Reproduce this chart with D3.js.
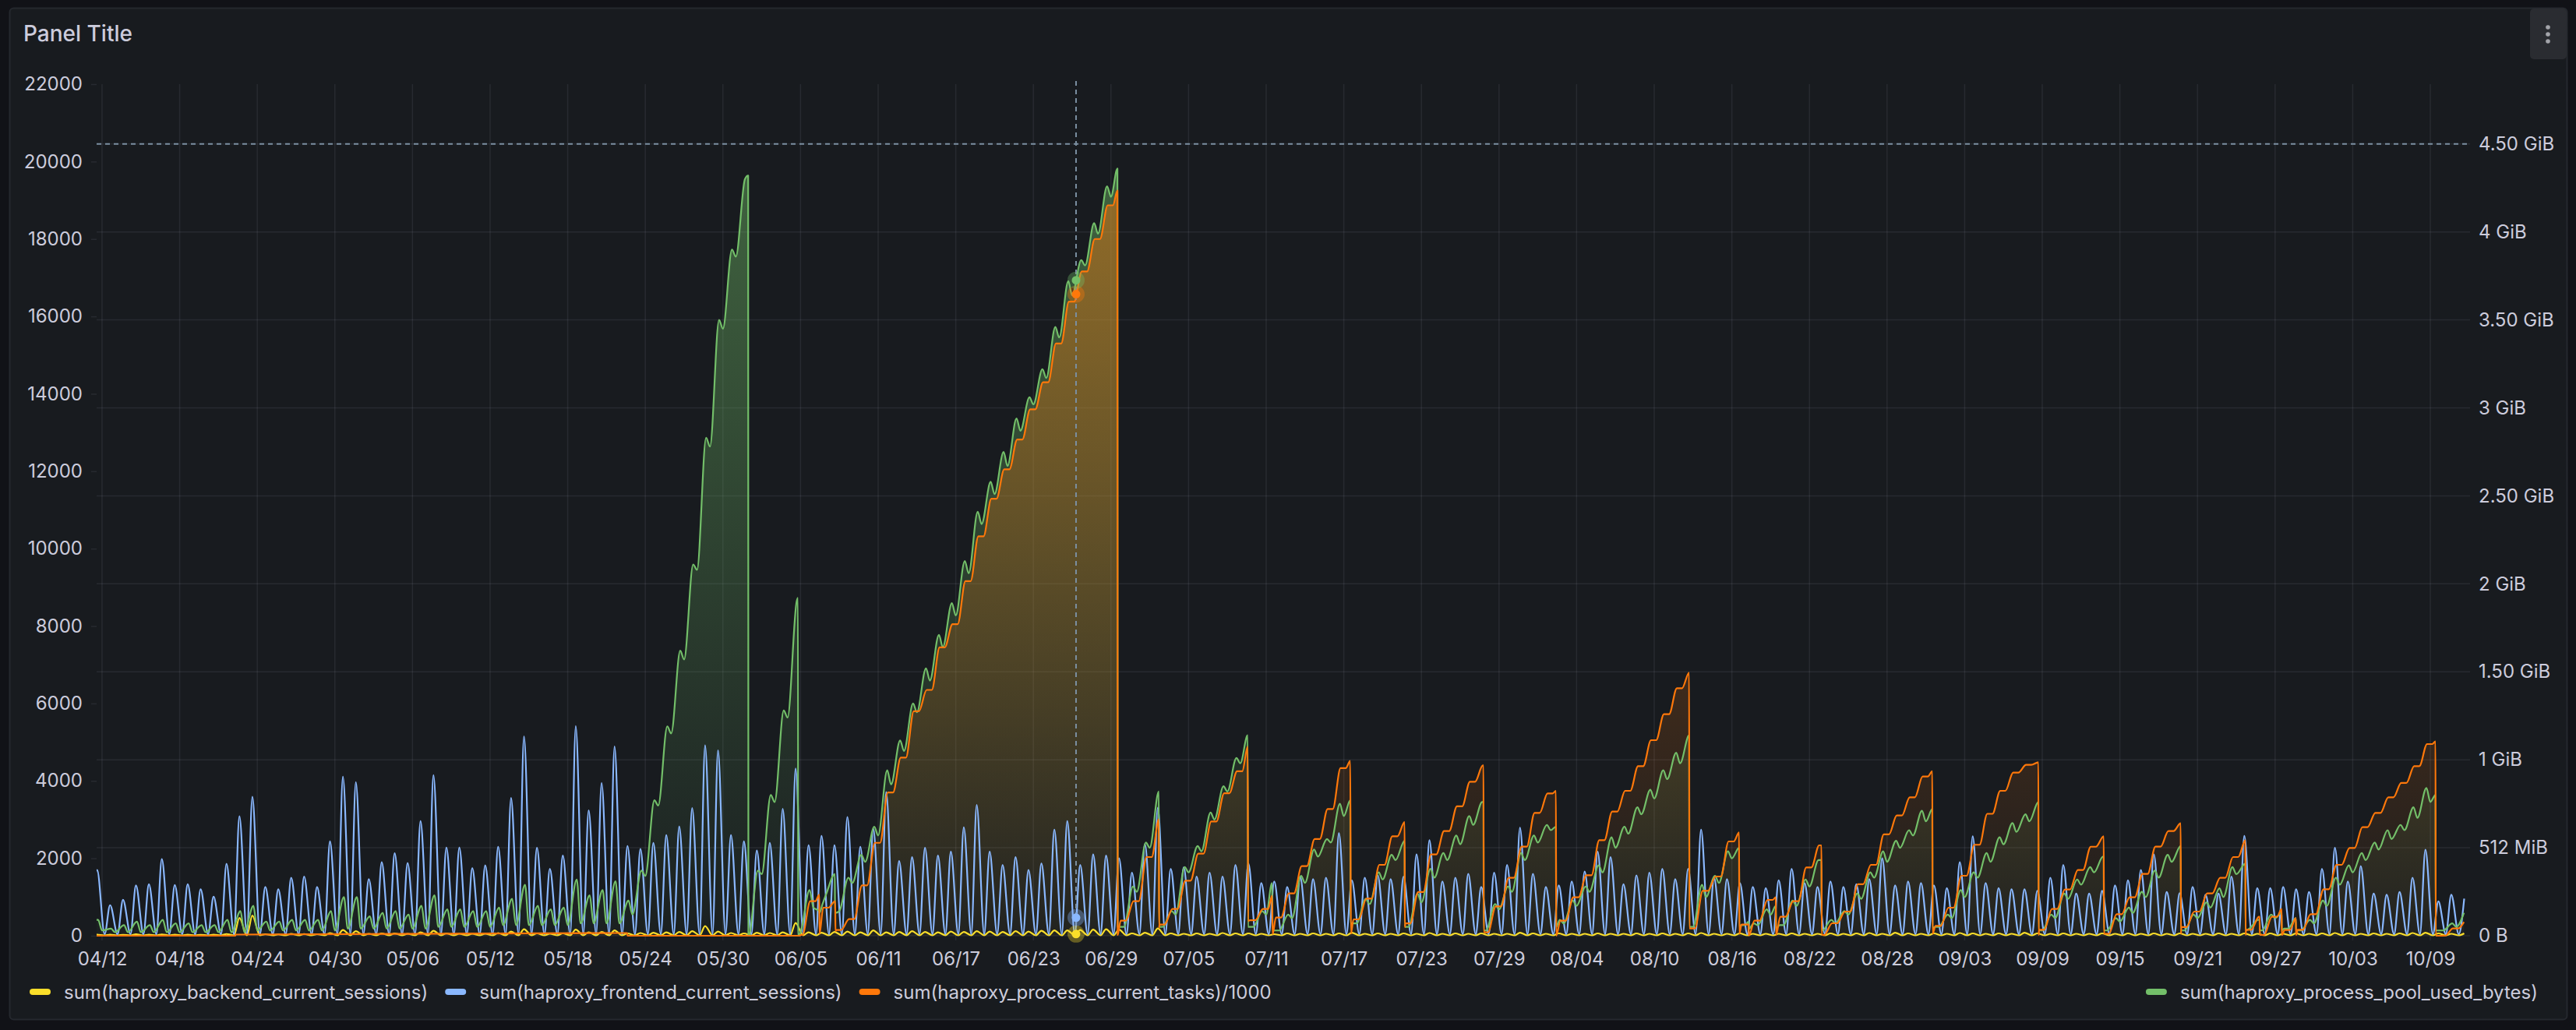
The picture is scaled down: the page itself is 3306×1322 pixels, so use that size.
<!DOCTYPE html>
<html>
<head>
<meta charset="utf-8">
<title>Panel Title</title>
<script src="https://cdn.jsdelivr.net/npm/d3@7"></script>
<style>
  body { margin: 0; background: #111217; font-family: Inter, "Noto Sans", sans-serif; }
  svg text { fill: #ccccdc; }
</style>
</head>
<body>
<svg id="chart" width="3306" height="1322"></svg>
<script>
// ---- data (days counted from 04/12 00:00) ----
const tickLabels = ["04/12","04/18","04/24","04/30","05/06","05/12","05/18","05/24","05/30","06/05","06/11",
  "06/17","06/23","06/29","07/05","07/11","07/17","07/23","07/29","08/04","08/10","08/16","08/22","08/28",
  "09/03","09/09","09/15","09/21","09/27","10/03","10/09"];
const leftTicks = [0,2000,4000,6000,8000,10000,12000,14000,16000,18000,20000,22000];
const rightTicks = [0,0.5,1,1.5,2,2.5,3,3.5,4,4.5]; // GiB
const rightTickLabels = ["0 B","512 MiB","1 GiB","1.50 GiB","2 GiB","2.50 GiB","3 GiB","3.50 GiB","4 GiB","4.50 GiB"];

const seriesNames = ["sum(haproxy_backend_current_sessions)","sum(haproxy_frontend_current_sessions)",
  "sum(haproxy_process_current_tasks)/1000","sum(haproxy_process_pool_used_bytes)"];
const seriesColors = ["#fade2a","#8ab8ff","#ff780a","#73bf69"];

// daily peaks, first value = 04/11
const backendPeaks = [30,
 30,25,40,30,35,30,30,25,30,45, 460,520,40,35,50,45,40,70,150,120,
 50,60,60,50,90,130,60,50,50,50, 70,110,170,60,50,60,160,90,100,140,
 60,70,80,90,100,120,250,110,70,60, 80,70,90,330,90,80,100,110,90,140,
 90,100,120,100,90,110,100,120,110,100, 120,110,130,140,140,150,160,170,160,60,
 80,190,60,50,60,50,70,60,60,50, 40,60,50,60,50,60,80,50,60,50,
 60,50,70,50,60,50,60,50,50,80, 60,50,60,50,50,60,50,50,60,50,
 60,50,60,70,50,50,60,50,50,50, 60,50,50,60,50,60,70,50,80,60,
 50,60,50,70,60,50,60,50,80,60, 50,60,50,50,60,50,60,50,60,50,
 60,50,50,60,50,60,50,60,50,60, 50,60,70,60,50,60,50,60,70,80,
 60,50,60];
const backendTrough = 10;

const frontendPeaks = [1700,
 790,930,1300,1330,1980,1310,1330,1200,1010,1860, 3090,3590,1260,1200,1500,1530,1260,2440,4110,3970,
 1460,1900,2130,1880,2960,4150,2280,2280,1750,1820, 2300,3560,5150,2270,1730,2070,5420,3240,3950,4890,
 2320,2240,2400,2600,2820,3300,4920,4790,2600,2440, 2200,2400,3280,4320,2340,2580,2340,3070,2300,2770,
 3710,1930,2030,2270,2070,2170,2800,3380,2170,1830, 2030,1700,1870,2740,2960,1830,2100,2070,2000,1630,
 2370,3310,1730,1770,1530,1630,1530,1830,1870,1360, 1400,1260,1530,1460,1500,2650,1430,1500,1560,1460,
 1530,2100,2470,1400,1500,1600,1260,1630,1830,2790, 1600,1260,1300,1400,1660,2170,2030,1330,1560,1630,
 1730,1460,1730,2740,1500,1460,1360,1260,1230,1430, 1730,1360,1260,1400,1260,1330,1460,2000,1300,1400,
 1360,1300,1230,1900,2570,1360,1230,1200,1200,1160, 1500,1830,1090,1090,1160,1300,1430,1700,2100,1130,
 1100,1260,1060,1090,1530,2580,1230,1230,1260,1200, 1130,1730,2270,1400,1800,1090,1060,1130,1500,2220,
 890,1060,960];
const frontendTrough = 40;

// tasks/1000: each ramp = start/end day, value after reset, daily plateau values, value just before reset
const taskRamps = [
 {start:-0.42, end:10.3, base:0, steps:[], peak:0},
 {start:10.32, end:40.6, base:30, steps:[], peak:70},
 {start:40.62, end:53.96, base:0, steps:[], peak:0},
 {start:53.98, end:55.45, base:20, steps:[20,893,1060], peak:1060},
 {start:55.47, end:56.68, base:50, steps:[725,893], peak:893},
 {start:56.7, end:78.5, base:120, steps:[150,430,1300,2400,3700,4600,5800,6350,7450,8050,9160,10320,11290,
   12050,12820,13600,14300,15300,16380,17160,18000,18870,19250], peak:19250},
 {start:78.52, end:81.7, base:20, steps:[390,893,2033,3006], peak:3006},
 {start:81.72, end:88.57, base:200, steps:[290,690,1420,2120,2950,3680,4250,4885], peak:4885},
 {start:88.6, end:90.45, base:380, steps:[400,692,1030], peak:1030},
 {start:90.5, end:96.5, base:40, steps:[470,1094,1800,2500,3275,4330,4516], peak:4516},
 {start:96.55, end:100.7, base:50, steps:[423,960,1832,2570,2939], peak:2939},
 {start:100.72, end:106.8, base:220, steps:[320,1128,2101,2704,3342,3979,4400], peak:4400},
 {start:106.82, end:112.4, base:90, steps:[120,758,1497,2302,3174,3677,3744], peak:3744},
 {start:112.42, end:122.7, base:0, steps:[390,993,1564,2470,3208,3744,4381,5052,5723,6395,6798], peak:6798},
 {start:122.72, end:126.56, base:190, steps:[190,1161,1530,2436,2671], peak:2671},
 {start:126.58, end:127.3, base:50, steps:[289,289], peak:289},
 {start:127.32, end:129.4, base:0, steps:[390,926,993], peak:993},
 {start:129.42, end:132.93, base:20, steps:[490,893,1765,2335], peak:2335},
 {start:132.95, end:141.5, base:20, steps:[20,322,624,1329,1832,2620,3107,3577,4113,4248], peak:4248},
 {start:141.52, end:149.7, base:50, steps:[255,725,1550,2350,3150,3744,4214,4415,4482], peak:4482},
 {start:149.72, end:154.75, base:20, steps:[155,692,1195,1700,2300,2571], peak:2571},
 {start:154.77, end:160.7, base:50, steps:[87,557,993,1597,2302,2705,2906], peak:2906},
 {start:160.72, end:165.7, base:50, steps:[222,624,1094,1497,2033,2470], peak:2470},
 {start:165.72, end:166.8, base:20, steps:[155,490], peak:490},
 {start:166.82, end:168.5, base:20, steps:[100,490,692], peak:692},
 {start:168.52, end:169.6, base:20, steps:[150,457], peak:457},
 {start:169.62, end:180.4, base:20, steps:[155,557,1200,1832,2268,2805,3174,3577,3946,4382,4952,5020], peak:5020},
 {start:180.42, end:182.6, base:0, steps:[0,188,356], peak:356}
];

// pool used bytes in GiB: daily [bump, dip] pairs per ramp
const poolRamps = [
 {start:-0.42, end:49.95, base:0.09, peak:4.32, steps:[[0.09,0.03],
  [0.04,0.02],[0.06,0.02],[0.08,0.02],[0.06,0.02],[0.09,0.02],[0.07,0.02],[0.07,0.02],[0.06,0.02],[0.06,0.02],[0.09,0.02],
  [0.14,0.02],[0.17,0.03],[0.08,0.03],[0.08,0.03],[0.09,0.03],[0.09,0.03],[0.09,0.03],[0.14,0.03],[0.22,0.04],[0.22,0.04],
  [0.11,0.04],[0.13,0.04],[0.14,0.04],[0.12,0.04],[0.17,0.04],[0.23,0.05],[0.15,0.05],[0.15,0.05],[0.14,0.05],[0.14,0.05],
  [0.16,0.06],[0.21,0.06],[0.29,0.06],[0.17,0.06],[0.15,0.06],[0.16,0.06],[0.32,0.07],[0.23,0.07],[0.26,0.07],[0.31,0.07],
  [0.20,0.12],[0.37,0.34],[0.77,0.74],[1.19,1.15],[1.62,1.57],[2.11,2.08],[2.83,2.78],[3.50,3.45],[3.90,3.86],[4.30,4.30]]},
 {start:49.97, end:53.8, base:0, peak:1.92, steps:[[0,0],[0.37,0.35],[0.80,0.76],[1.28,1.24],[1.90,1.90]]},
 {start:53.82, end:55.45, base:0, peak:0.14, steps:[[0,0.02],[0.26,0.16],[0.14,0.14]]},
 {start:55.47, end:56.65, base:0.13, peak:0.35, steps:[[0.18,0.24],[0.35,0.35]]},
 {start:56.67, end:78.5, base:0.13, peak:4.36, steps:[[0.13,0.14],[0.33,0.30],[0.46,0.42],[0.62,0.57],[0.94,0.86],
  [1.11,1.05],[1.32,1.27],[1.52,1.45],[1.71,1.64],[1.89,1.82],[2.13,2.06],[2.41,2.34],[2.58,2.51],[2.75,2.67],[2.94,2.87],
  [3.06,3.02],[3.22,3.17],[3.46,3.40],[3.72,3.64],[3.84,3.81],[4.05,3.99],[4.26,4.20],[4.36,4.36]]},
 {start:78.52, end:81.7, base:0.05, peak:0.82, steps:[[0.05,0.05],[0.28,0.25],[0.53,0.50],[0.82,0.82]]},
 {start:81.72, end:88.57, base:0.05, peak:1.14, steps:[[0.05,0.05],[0.14,0.12],[0.39,0.36],[0.51,0.48],[0.70,0.66],[0.85,0.82],[1.01,0.98],[1.14,1.14]]},
 {start:88.6, end:90.45, base:0.05, peak:0.30, steps:[[0.05,0.05],[0.14,0.12],[0.30,0.30]]},
 {start:90.5, end:96.5, base:0.03, peak:0.77, steps:[[0.03,0.03],[0.12,0.10],[0.34,0.30],[0.49,0.45],[0.55,0.53],[0.75,0.68],[0.77,0.77]]},
 {start:96.52, end:100.7, base:0.07, peak:0.54, steps:[[0.07,0.07],[0.21,0.18],[0.36,0.32],[0.46,0.43],[0.54,0.54]]},
 {start:100.72, end:106.8, base:0.05, peak:0.76, steps:[[0.05,0.05],[0.24,0.19],[0.38,0.33],[0.47,0.43],[0.57,0.52],[0.68,0.63],[0.76,0.76]]},
 {start:106.82, end:112.4, base:0.03, peak:0.62, steps:[[0.03,0.03],[0.18,0.15],[0.28,0.25],[0.47,0.43],[0.57,0.53],[0.63,0.60],[0.62,0.62]]},
 {start:112.42, end:122.7, base:0.05, peak:1.14, steps:[[0.09,0.07],[0.20,0.17],[0.28,0.25],[0.40,0.36],[0.56,0.50],[0.62,0.58],
  [0.73,0.69],[0.83,0.78],[0.94,0.89],[1.04,0.98],[1.14,1.14]]},
 {start:122.72, end:126.56, base:0.05, peak:0.50, steps:[[0.05,0.05],[0.29,0.22],[0.34,0.30],[0.48,0.44],[0.50,0.50]]},
 {start:126.58, end:127.3, base:0.05, peak:0.08, steps:[[0.06,0.06],[0.08,0.08]]},
 {start:127.32, end:129.4, base:0.04, peak:0.17, steps:[[0.07,0.06],[0.15,0.12],[0.17,0.17]]},
 {start:129.42, end:132.93, base:0.04, peak:0.43, steps:[[0.06,0.06],[0.20,0.17],[0.32,0.28],[0.43,0.43]]},
 {start:132.95, end:141.5, base:0.03, peak:0.72, steps:[[0.03,0.03],[0.09,0.07],[0.14,0.12],[0.24,0.21],[0.36,0.33],[0.48,0.42],
  [0.54,0.50],[0.60,0.57],[0.71,0.65],[0.72,0.72]]},
 {start:141.52, end:149.7, base:0.04, peak:0.76, steps:[[0.05,0.05],[0.12,0.10],[0.26,0.22],[0.36,0.33],[0.47,0.42],[0.56,0.52],
  [0.64,0.59],[0.69,0.65],[0.76,0.76]]},
 {start:149.72, end:154.75, base:0.03, peak:0.45, steps:[[0.03,0.03],[0.12,0.10],[0.24,0.21],[0.32,0.29],[0.39,0.36],[0.45,0.45]]},
 {start:154.77, end:160.7, base:0.03, peak:0.51, steps:[[0.03,0.03],[0.10,0.08],[0.16,0.13],[0.25,0.22],[0.37,0.33],[0.46,0.42],[0.51,0.51]]},
 {start:160.72, end:165.7, base:0.03, peak:0.41, steps:[[0.03,0.03],[0.12,0.10],[0.19,0.16],[0.27,0.22],[0.39,0.35],[0.41,0.41]]},
 {start:165.72, end:166.8, base:0.03, peak:0.09, steps:[[0.04,0.04],[0.09,0.09]]},
 {start:166.82, end:168.5, base:0.03, peak:0.13, steps:[[0.03,0.03],[0.12,0.10],[0.13,0.13]]},
 {start:168.52, end:169.6, base:0.03, peak:0.10, steps:[[0.04,0.04],[0.10,0.10]]},
 {start:169.62, end:180.4, base:0.03, peak:0.80, steps:[[0.03,0.03],[0.09,0.07],[0.20,0.17],[0.33,0.29],[0.40,0.36],[0.47,0.43],
  [0.53,0.49],[0.60,0.55],[0.63,0.60],[0.73,0.67],[0.84,0.76],[0.80,0.80]]},
 {start:180.42, end:182.6, base:0.03, peak:0.13, steps:[[0.03,0.03],[0.07,0.05],[0.13,0.13]]}
];

const hoverDay = 75.3;      // cursor position
const hoverLevel = 4.5;     // GiB, cursor height

// ---- layout ----
const W = 3306, H = 1322;
const plot = {left: 124, right: 3170, top: 108, bottom: 1201};
const day0 = Date.UTC(2024, 3, 12);
const toDate = d => new Date(day0 + d * 864e5);

const x = d3.scaleUtc().domain([toDate(-0.42), toDate(183.07)]).range([plot.left, plot.right]);
const yL = d3.scaleLinear().domain([0, 22000]).range([plot.bottom, plot.top]);
const yR = d3.scaleLinear().domain([0, 4.84]).range([plot.bottom, plot.top]);

// ---- build point lists ----
function buildDaily(peaks, trough) {
  const pts = [];
  peaks.forEach((p, i) => { const d = i - 1; pts.push([d + 0.2, trough]); pts.push([d + 0.62, p]); });
  return pts;
}
function buildTasks(ramps) {
  const pts = [];
  ramps.forEach(r => {
    pts.push([r.start, r.base]);
    let prev = r.base;
    const first = Math.floor(r.start);
    r.steps.forEach((v, i) => {
      const ta = first + i + 0.15, tb = first + i + 0.75;
      if (ta > r.start && ta < r.end) pts.push([ta, prev]);
      if (tb > r.start && tb < r.end) { pts.push([tb, v]); prev = v; }
    });
    pts.push([r.end, r.peak]);
  });
  return pts;
}
function buildPool(ramps) {
  const pts = [];
  ramps.forEach(r => {
    pts.push([r.start, r.base]);
    const first = Math.floor(r.start);
    r.steps.forEach(([bump, dip], i) => {
      const tb = first + i + 0.7, td = first + i + 1.0;
      if (tb > r.start && tb < r.end) pts.push([tb, bump]);
      if (td > r.start && td < r.end) pts.push([td, dip]);
    });
    pts.push([r.end, r.peak]);
  });
  return pts;
}

const series = [
  {pts: buildDaily(backendPeaks, backendTrough), y: yL, fill: false},
  {pts: buildDaily(frontendPeaks, frontendTrough), y: yL, fill: false},
  {pts: buildTasks(taskRamps), y: yL, fill: true},
  {pts: buildPool(poolRamps), y: yR, fill: true}
];

// ---- drawing ----
const svg = d3.select("#chart");
const defs = svg.append("defs");
defs.append("clipPath").attr("id", "plotClip").append("rect")
  .attr("x", plot.left).attr("y", plot.top - 4)
  .attr("width", plot.right - plot.left).attr("height", plot.bottom - plot.top + 6);
seriesColors.forEach((c, i) => {
  const g = defs.append("linearGradient").attr("id", "grad" + i)
    .attr("gradientUnits", "userSpaceOnUse")
    .attr("x1", 0).attr("x2", 0).attr("y1", plot.top).attr("y2", plot.bottom);
  g.append("stop").attr("offset", 0).attr("stop-color", c).attr("stop-opacity", 0.48);
  g.append("stop").attr("offset", 1).attr("stop-color", c).attr("stop-opacity", 0.03);
});

// panel
svg.append("rect").attr("x", 0).attr("y", 0).attr("width", W).attr("height", H).attr("fill", "#111217");
svg.append("rect").attr("x", 12.5).attr("y", 10.5).attr("width", 3282).attr("height", 1298).attr("rx", 5)
  .attr("fill", "#181b1f").attr("stroke", "#25282e").attr("stroke-width", 2);
svg.append("text").attr("x", 30).attr("y", 53).attr("font-size", 28).attr("font-weight", 500)
  .text("Panel Title");
// menu button
svg.append("rect").attr("x", 3247).attr("y", 11).attr("width", 47).attr("height", 65).attr("rx", 5).attr("fill", "#2a2c31");
[35, 44, 53].forEach(cy => svg.append("circle").attr("cx", 3270).attr("cy", cy).attr("r", 2.8).attr("fill", "#a3a4aa"));

const gridColor = "rgba(204,204,220,0.09)";
// grid
const grid = svg.append("g");
const xTicks = tickLabels.map(t => { const [m, d] = t.split("/").map(Number); return new Date(Date.UTC(2024, m - 1, d)); });
grid.selectAll(".vx").data(xTicks).join("line")
  .attr("x1", d => x(d)).attr("x2", d => x(d)).attr("y1", plot.top).attr("y2", plot.bottom + 6)
  .attr("stroke", gridColor).attr("stroke-width", 1.5);
grid.selectAll(".hy").data(rightTicks).join("line")
  .attr("x1", plot.left).attr("x2", plot.right).attr("y1", d => yR(d)).attr("y2", d => yR(d))
  .attr("stroke", gridColor).attr("stroke-width", 1.5);

// axes
const axisFont = 24;
const leftAxis = svg.append("g").attr("transform", `translate(${plot.left},0)`)
  .call(d3.axisLeft(yL).tickValues(leftTicks).tickFormat(d => String(d)).tickSize(7).tickPadding(11));
const rightAxis = svg.append("g").attr("transform", `translate(${plot.right},0)`)
  .call(d3.axisRight(yR).tickValues(rightTicks).tickFormat((d, i) => rightTickLabels[i]).tickSize(0).tickPadding(11));
const bottomAxis = svg.append("g").attr("transform", `translate(0,${plot.bottom})`)
  .call(d3.axisBottom(x).tickValues(xTicks).tickFormat((d, i) => tickLabels[i]).tickSize(0).tickPadding(21));
[leftAxis, rightAxis, bottomAxis].forEach(a => {
  a.select(".domain").remove();
  a.selectAll("line").attr("stroke", gridColor).attr("stroke-width", 1.5);
  a.selectAll("text").attr("font-size", axisFont).attr("font-family", "Inter, sans-serif").attr("fill", "#ccccdc");
});

// series: pool fill under tasks fill, then lines (tasks last so its resets sit on top)
const body = svg.append("g").attr("clip-path", "url(#plotClip)");
[3, 2].forEach(i => {
  const s = series[i];
  const area = d3.area().curve(d3.curveMonotoneX)
    .x(p => x(toDate(p[0]))).y0(plot.bottom).y1(p => s.y(p[1]));
  body.append("path").datum(s.pts).attr("d", area).attr("fill", `url(#grad${i})`);
});
[0, 1, 3, 2].forEach(i => {
  const s = series[i];
  const line = d3.line().curve(d3.curveMonotoneX).x(p => x(toDate(p[0]))).y(p => s.y(p[1]));
  body.append("path").datum(s.pts).attr("d", line).attr("fill", "none")
    .attr("stroke", seriesColors[i]).attr("stroke-width", 2.2).attr("stroke-linejoin", "round");
});

// cursor
const hx = x(toDate(hoverDay));
const cursorColor = "#7b8fa1";
svg.append("line").attr("x1", hx).attr("x2", hx).attr("y1", plot.top - 4).attr("y2", plot.bottom)
  .attr("stroke", cursorColor).attr("stroke-width", 2).attr("stroke-dasharray", "6,5");
svg.append("line").attr("x1", plot.left).attr("x2", plot.right).attr("y1", yR(hoverLevel)).attr("y2", yR(hoverLevel))
  .attr("stroke", cursorColor).attr("stroke-width", 2).attr("stroke-dasharray", "6,5");
function valueAt(pts, t) {
  const i = d3.bisector(p => p[0]).left(pts, t);
  if (i <= 0) return pts[0][1];
  const a = pts[i - 1], b = pts[i];
  return a[1] + (b[1] - a[1]) * (t - a[0]) / (b[0] - a[0]);
}
series.forEach((s, i) => {
  const cy = s.y(valueAt(s.pts, hoverDay));
  svg.append("circle").attr("cx", hx).attr("cy", cy).attr("r", 11).attr("fill", seriesColors[i]).attr("opacity", 0.35);
  svg.append("circle").attr("cx", hx).attr("cy", cy).attr("r", 5.5).attr("fill", seriesColors[i]);
});

// legend
const legend = svg.append("g");
const legY = 1273;
let lx = 38;
seriesNames.forEach((name, i) => {
  const g = legend.append("g");
  g.append("rect").attr("x", 0).attr("y", legY - 4).attr("width", 27).attr("height", 8).attr("rx", 4)
    .attr("fill", seriesColors[i]);
  const t = g.append("text").attr("x", 44).attr("y", legY).attr("dominant-baseline", "central")
    .attr("font-size", 24).text(name);
  const w = t.node().getComputedTextLength();
  if (i < 3) {
    g.attr("transform", `translate(${lx},0)`);
    lx += 44 + w + 22;
  } else {
    g.attr("transform", `translate(${3257 - 44 - w},0)`);
  }
});
</script>
</body>
</html>
